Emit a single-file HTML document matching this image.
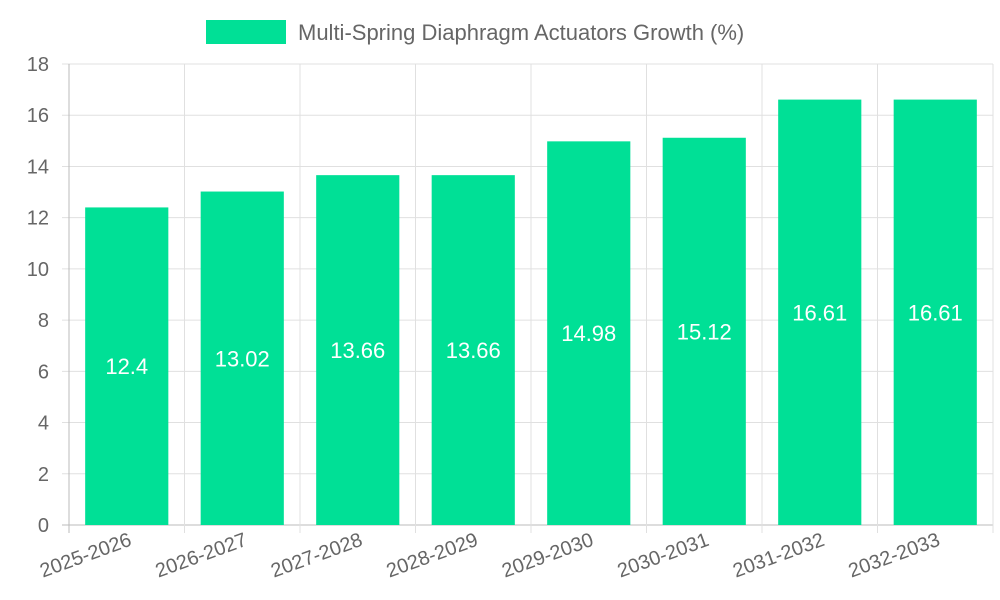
<!DOCTYPE html>
<html><head><meta charset="utf-8"><style>
body{margin:0;background:#fff;}
svg{display:block;font-family:"Liberation Sans",sans-serif;}
</style></head><body>
<svg id="c" width="1000" height="600"></svg>
<script>
const categories=["2025-2026","2026-2027","2027-2028","2028-2029","2029-2030","2030-2031","2031-2032","2032-2033"];
const values=[12.4,13.02,13.66,13.66,14.98,15.12,16.61,16.61];
const yTicks=[0,2,4,6,8,10,12,14,16,18];
const svg=document.getElementById('c');
const NS="http://www.w3.org/2000/svg";
const L=69,R=993,T=64,B=525,yMax=18;
const bw=(R-L)/categories.length;
const y=v=>B-(v/yMax)*(B-T);
const x=i=>L+i*bw;
function mk(tag,attrs,parent){const e=document.createElementNS(NS,tag);for(const k in attrs)e.setAttribute(k,attrs[k]);(parent||svg).appendChild(e);return e;}
// grid
const grid=mk('g',{});


yTicks.forEach(t=>{
  mk('line',{x1:L-7,x2:R,y1:y(t),y2:y(t),stroke:t===0?'#bbb':'#e0e0e0','stroke-width':1},grid);
  const tx=mk('text',{x:L-20,y:y(t)+7,'text-anchor':'end','font-size':20,fill:'#666'});
  tx.textContent=t;
  
  
});
for(let i=0;i<=categories.length;i++){
  mk('line',{x1:x(i),x2:x(i),y1:T,y2:B+8,stroke:i===0?'#bbb':'#e0e0e0','stroke-width':1},grid);
}
// bars
categories.forEach((c,i)=>{
  const v=values[i];
  const bx=x(i)+bw*0.14,w=bw*0.72;
  const r=mk('rect',{x:bx,y:y(v),width:w,height:B-y(v),fill:'#00e096'});
  
  
  const lt=mk('text',{x:bx+w/2,y:(y(v)+B)/2+8,'text-anchor':'middle','font-size':22,fill:'#fff'});
  lt.textContent=v;
  
  
  const cx=x(i)+bw/2;
  const xl=mk('text',{x:cx+6,y:B+20,'text-anchor':'end','font-size':20,fill:'#666',transform:`rotate(-20 ${cx+6} ${B+20})`});
  xl.textContent=c;
  
  
});
// legend
const lg=mk('g',{});


mk('rect',{x:206,y:20,width:80,height:24,fill:'#00e096'},lg);
const lt=mk('text',{x:298,y:40,'font-size':22,fill:'#666'},lg);
lt.textContent="Multi-Spring Diaphragm Actuators Growth (%)";
</script>
</body></html>
